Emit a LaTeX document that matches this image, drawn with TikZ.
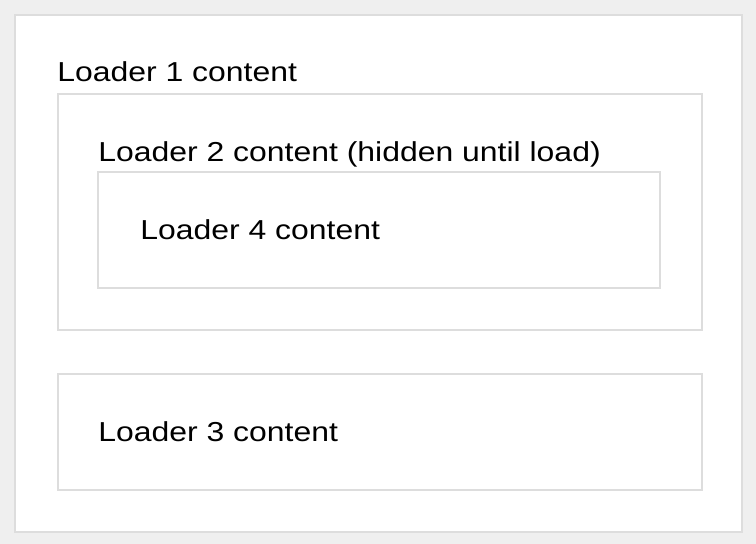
\documentclass[tikz,border=0pt]{standalone}
\usepackage{fontspec}
\setmainfont[FakeStretch=1.165]{Liberation Sans}
\usepackage{tikz}
\usetikzlibrary{positioning}

\definecolor{bggray}{HTML}{EFEFEF}
\definecolor{boxgray}{HTML}{DDDDDD}

\tikzset{
  box/.style={draw=boxgray, line width=1.4pt},
  txt/.style={anchor=base west, inner sep=0pt, font=\fontsize{19.5}{23}\selectfont}
}

\begin{document}
\begin{tikzpicture}

\fill[bggray] (0,0) rectangle (18.9,13.6); % sfondo
\useasboundingbox (0,0) rectangle (18.9,13.6);

\draw[box, fill=white] (0.375,13.225) rectangle (18.55,0.3); % pannello

% loader 1
\node[txt] (load1) at (1.425,11.55) {Loader 1 content};
\draw[box] (1.44,11.26) rectangle (17.54,5.34);

% loader 2 (dentro loader 1)
\node[txt] (load2) at (2.45,9.55) {Loader 2 content (hidden until load)};
\draw[box] (2.46,9.31) rectangle (16.49,6.41);

% loader 4 (dentro loader 2)
\node[txt] (load4) at (3.5,7.6) {Loader 4 content};

% loader 3
\draw[box] (1.44,4.26) rectangle (17.54,1.34);
\node[txt] (load3) at (2.45,2.55) {Loader 3 content};

\end{tikzpicture}
\end{document}
